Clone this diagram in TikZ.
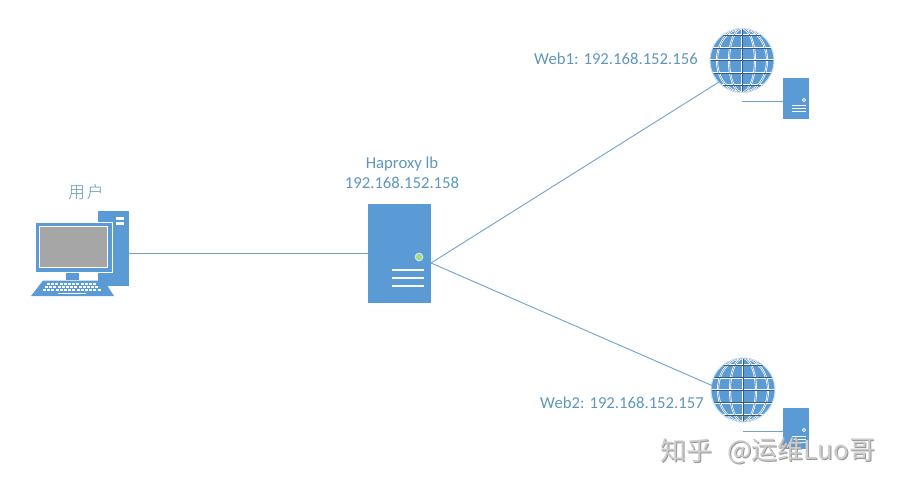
\documentclass[tikz,border=0pt]{standalone}
\usepackage{fontspec}
\setmainfont{Carlito}
\newfontfamily\cjk{Noto Sans CJK SC}
\newfontfamily\cjkl{Noto Sans CJK SC}[UprightFont = * Light]
\definecolor{blu}{HTML}{5B9BD5}
\definecolor{txt}{HTML}{5F97BC}
\definecolor{wire}{HTML}{6FA3CF}
\definecolor{dk}{HTML}{2F5C88}
\tikzset{
 lbl/.style={text=txt,font=\fontsize{16.7}{20}\selectfont,inner sep=0pt,align=center},
 wirel/.style={draw=wire,line width=0.9pt},
 blk/.style={fill=blu,draw=none},
 srv/.style={fill=blu,draw=none,minimum width=26pt,minimum height=41pt,inner sep=0pt},
 glb/.style={circle,minimum size=64pt,inner sep=0pt,draw=none},
 wm/.style={font=\cjk\fontsize{26}{26}\selectfont,inner sep=0pt,anchor=west}
}
\newcommand{\globeart}[1]{%
 \begin{scope}[shift={(#1)}]
  \fill[blu] (0,0) circle (32);
  \begin{scope}
   \clip (0,0) circle (32);
   \foreach \col/\wd in {white/2pt,dk/0.3pt}{
    \foreach \rx in {13,25}{\draw[\col,line width=\wd] (0,0) ellipse [x radius=\rx,y radius=32];}
    \draw[\col,line width=\wd] (0,-32)--(0,32);
    \foreach \yy in {-25,-12.5,12.5,25}{\draw[\col,line width=\wd] (-32,\yy)--(32,\yy);}
    \draw[\col,line width=\wd] (-32,0)--(32,0);
   }
  \end{scope}
  \draw[white!70!blu,line width=1pt] (0,0) circle (32);
 \end{scope}}
\newcommand{\srvart}[1]{%
 \begin{scope}[shift={(#1)}]
  \draw[white,line width=0.6pt,fill=none] (21,22) circle (1.6);
  \foreach \yy in {28,31,34}{\draw[white,line width=1pt] (9,\yy)--(23,\yy);}
 \end{scope}}
\begin{document}
\begin{tikzpicture}[x=1pt,y=-1pt]
\useasboundingbox (0,0) rectangle (898,487);
\fill[white] (0,0) rectangle (898,487);
% main server
\node[srv,minimum width=63pt,minimum height=99pt] (lb) at (399.5,253.5) {};
\fill[white!70!blu] (419,257) circle (4.4);
\fill[green!50!yellow!60!gray!70!white] (419,257) circle (3);
\foreach \yy in {270,278,286}{\draw[white,line width=1.5pt] (392,\yy)--(424,\yy);}
\coordinate (lbport) at (431,263);
% pc
\node[blk,minimum width=31pt,minimum height=75pt,inner sep=0pt] (pc) at (113.5,248.5) {};
\fill[white] (116,217) rectangle (124,219.5);
\fill[white] (116,222) rectangle (124,224.5);
\draw[white,line width=1pt,fill=blu] (35,222) rectangle (112,272.5);
\draw[white,line width=1pt,fill=black!35] (39.5,226) rectangle (107,267);
\fill[blu] (66,273) rectangle (79,280);
\fill[blu] (43,280.5)--(104,280.5)--(114,296)--(31,296)--cycle;
\foreach \yy/\a/\b in {284/47/97,287/45/99,290/43/101}{\draw[white,line width=1.5pt,dash pattern=on 3pt off 1.2pt] (\a,\yy)--(\b,\yy);}
\draw[white,line width=1.5pt] (58,293.5)--(86,293.5);
% globes and small servers
\node[glb] (g1) at (742,60.5) {};
\node[glb] (g2) at (743,390) {};
\node[srv] (s1) at (796,98.5) {};
\node[srv] (s2) at (796,428.5) {};
\globeart{742,60.5}
\globeart{743,390}
\srvart{783,78}
\srvart{783,408}
\coordinate (g1e) at (719,82);
\coordinate (g2e) at (712,385.5);
\coordinate (g1b) at (742,101);
\coordinate (g2b) at (743,431);
\draw[wirel] (pc.east |- lb.center) -- (lb.west |- lb.center);
\draw[wirel] (lbport) -- (g1e);
\draw[wirel] (lbport) -- (g2e);
\draw[wirel] (g1b) -- (s1.west |- g1b);
\draw[wirel] (g2b) -- (s2.west |- g2b);
% labels
\node[lbl] (tuser) at (86,192) {\cjkl 用\kern2pt 户};
\node[lbl] (tlb) at (402,173) {Haproxy lb\\192.168.152.158};
\node[lbl] (tw1) at (616,58.5) {Web1: 192.168.152.156};
\node[lbl] (tw2) at (622,402.5) {Web2: 192.168.152.157};
% watermark
\foreach \dx/\col in {1/black!40,0/black!20}{
 \node[wm,text=\col] at (660+\dx,451+\dx) {知乎};
 \node[wm,text=\col] at (727+\dx,451+\dx) {@运维Luo哥};
}
\end{tikzpicture}
\end{document}
